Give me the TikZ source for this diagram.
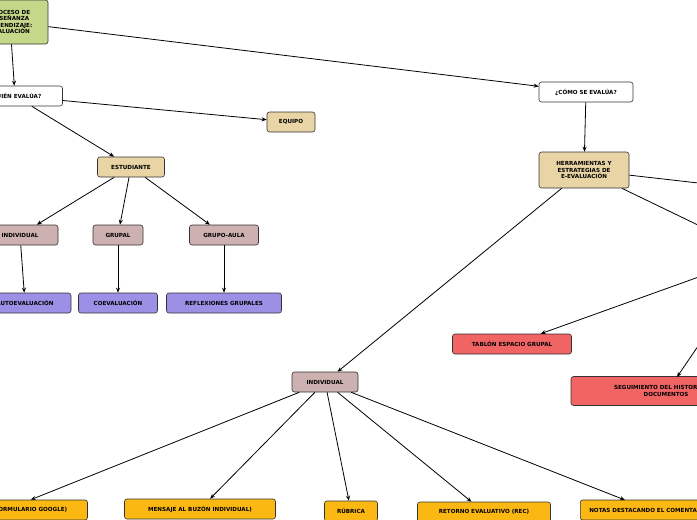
\documentclass[tikz,border=0pt]{standalone}
\usepackage{fontspec}
\setmainfont{DejaVu Sans}
\usetikzlibrary{arrows.meta}
\definecolor{cgreen}{HTML}{C5D88A}
\definecolor{ctan}{HTML}{E8D4A4}
\definecolor{cpink}{HTML}{CDB0B0}
\definecolor{cpurple}{HTML}{9B8FE6}
\definecolor{cred}{HTML}{F06464}
\definecolor{corange}{HTML}{FBB813}
\begin{document}
\begin{tikzpicture}[x=1pt,y=-1pt,
 box/.style={draw=black!80,rounded corners=2.5pt,line width=0.6pt,font=\bfseries\fontsize{5.6}{6.6}\selectfont,align=center,inner sep=2pt,minimum height=20pt},
 ar/.style={line width=0.8pt,-{Stealth[length=5pt,width=4pt]}},
 ln/.style={line width=0.8pt}]
\useasboundingbox (0,0) rectangle (697,520);
\clip (0,0) rectangle (697,520);
\node[box,fill=cgreen,minimum width=76pt,minimum height=44pt] (p) at (10,22) {PROCESO DE\\ENSEÑANZA\\APRENDIZAJE:\\EVALUACIÓN};
\node[box,fill=white,minimum width=95pt] (q) at (15,96) {¿QUIÉN EVALÚA?};
\node[box,fill=ctan,minimum width=48pt] (eq) at (291,122) {EQUIPO};
\node[box,fill=ctan,minimum width=67pt] (es) at (131,167) {ESTUDIANTE};
\node[box,fill=cpink,minimum width=76pt] (i1) at (20,235) {INDIVIDUAL};
\node[box,fill=cpink,minimum width=50pt] (g) at (118,235) {GRUPAL};
\node[box,fill=cpink,minimum width=69pt] (ga) at (224,235) {GRUPO-AULA};
\node[box,fill=cpurple,minimum width=92pt] (au) at (25,303) {AUTOEVALUACIÓN};
\node[box,fill=cpurple,minimum width=79pt] (co) at (118,303) {COEVALUACIÓN};
\node[box,fill=cpurple,minimum width=115pt] (rf) at (224,303) {REFLEXIONES GRUPALES};
\node[box,fill=white,minimum width=94pt] (cm) at (586,92) {¿CÓMO SE EVALÚA?};
\node[box,fill=ctan,minimum width=90pt,minimum height=36pt] (h) at (584,170) {HERRAMIENTAS Y\\ESTRATEGIAS DE\\E-EVALUACIÓN};
\node[box,fill=cred,minimum width=119pt] (tb) at (512,344) {TABLÓN ESPACIO GRUPAL};
\node[box,fill=cred,minimum width=190pt,minimum height=29pt] (sg) at (666,391) {SEGUIMIENTO DEL HISTORIAL DE\\DOCUMENTOS};
\node[box,fill=cpink,minimum width=66pt] (i2) at (325,382) {INDIVIDUAL};
\node[box,fill=corange,minimum width=165pt] (fo) at (5,510) {CUESTIONARIO (FORMULARIO GOOGLE)};
\node[box,fill=corange,minimum width=151pt] (me) at (200,509) {MENSAJE AL BUZÓN INDIVIDUAL)};
\node[box,fill=corange,minimum width=53pt] (ru) at (351,511) {RÚBRICA};
\node[box,fill=corange,minimum width=133pt] (re) at (484,512) {RETORNO EVALUATIVO (REC)};
\node[box,fill=corange,anchor=west,align=left,text width=190pt,inner xsep=9pt] (no) at (580,510) {NOTAS DESTACANDO EL COMENTARIO};
\coordinate (hr) at (760,190);
\coordinate (hid) at (760,255);
\draw[ar] (p) -- (q);
\draw[ar] (p) -- (cm);
\draw[ar] (q) -- (eq);
\draw[ar] (q) -- (es);
\draw[ar] (es) -- (i1);
\draw[ar] (es) -- (g);
\draw[ar] (es) -- (ga);
\draw[ar] (i1) -- (au);
\draw[ar] (g) -- (co);
\draw[ar] (ga) -- (rf);
\draw[ar] (cm) -- (h);
\draw[ln] (h) -- (hr);
\draw[ln] (h) -- (hid);
\draw[ar] (hid) -- (tb);
\draw[ar] (hid) -- (677,377);
\draw[ar] (h) -- (i2);
\draw[ar] (i2) -- (fo);
\draw[ar] (i2) -- (me);
\draw[ar] (i2) -- (ru);
\draw[ar] (i2) -- (re);
\draw[ar] (i2) -- (625,500);
\end{tikzpicture}
\end{document}
